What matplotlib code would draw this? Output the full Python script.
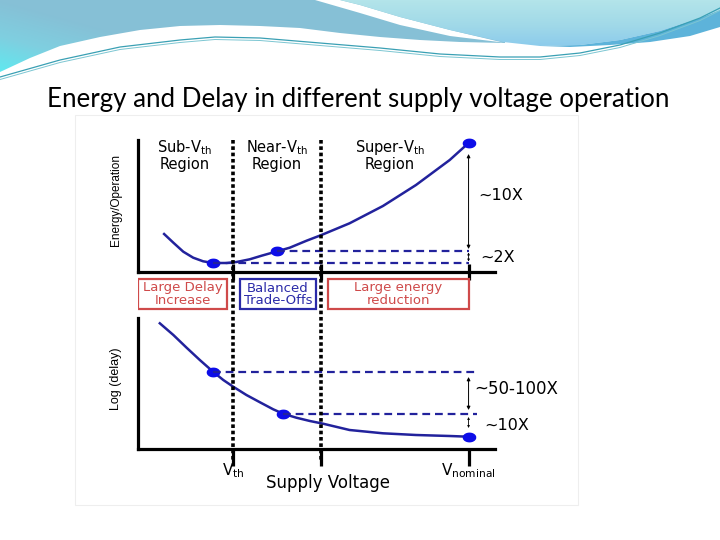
import numpy as np
import matplotlib.pyplot as plt
from matplotlib.patches import Polygon, Rectangle
from matplotlib.colors import LinearSegmentedColormap

plt.rcParams['font.family'] = ['DejaVu Sans']
plt.rcParams['mathtext.fontset'] = 'dejavusans'

# ---- data (arbitrary units) ----
V_TH = 0.287      # threshold voltage
V_NEAR = 0.553    # near/super threshold boundary
V_NOM = 1.0       # nominal supply

energy_v = [0.079, 0.107, 0.137, 0.167, 0.197, 0.227, 0.268, 0.298, 0.338, 0.374,
            0.419, 0.459, 0.510, 0.555, 0.640, 0.741, 0.841, 0.943, 1.0]
energy = [3.8, 2.93, 2.03, 1.43, 1.07, 0.9, 0.9, 1.0, 1.27, 1.63,
          2.05, 2.43, 3.13, 3.7, 4.87, 6.6, 8.7, 11.2, 12.9]
energy_dot_v = [0.227, 0.419, 1.0]
energy_dot = [0.9, 2.07, 12.9]

delay_v = [0.066, 0.107, 0.147, 0.187, 0.227, 0.258, 0.288, 0.328, 0.369, 0.409,
           0.439, 0.479, 0.520, 0.560, 0.640, 0.741, 0.841, 0.943, 1.0]
delay = [12.57, 11.4, 10.13, 8.9, 7.73, 6.9, 6.23, 5.4, 4.67, 3.97,
         3.53, 3.13, 2.8, 2.53, 1.9, 1.57, 1.4, 1.3, 1.23]
delay_dot_v = [0.227, 0.439, 1.0]
delay_dot = [7.73, 3.53, 1.23]

region_labels = ['Sub-V$_{\\mathrm{th}}$\nRegion', 'Near-V$_{\\mathrm{th}}$\nRegion',
                 'Super-V$_{\\mathrm{th}}$\nRegion']
region_x = [0.142, 0.42, 0.761]
box_labels = ['Large Delay\nIncrease', 'Balanced\nTrade-Offs', 'Large energy\nreduction']
box_spans = [(0.0, 0.269), (0.308, 0.538), (0.574, 1.0)]
tick_labels = ['V$_{\\mathrm{th}}$', '', 'V$_{\\mathrm{nominal}}$']

NAVY = '#22229c'
BLUE = '#0d0de8'
RED = '#cf4a4a'
BOXBLUE = '#2a2aa8'

# dots in the picture are slightly wide ellipses
t = np.linspace(0, 2 * np.pi, 40)
ELLIPSE = np.column_stack([1.45 * np.cos(t), np.sin(t)])

fig = plt.figure(figsize=(7.2, 5.4), dpi=100)

# ---- slide background with wavy header ----
bg = fig.add_axes([0, 0, 1, 1], zorder=0)
yy, xx = np.mgrid[0:90, 0:720]

a_x = [0, 0, 30, 60, 100, 140, 180, 220, 260, 300, 340, 380, 420, 460, 505, 505]
a_y = [0, 72, 58, 46, 37, 30, 26, 25, 26, 28, 33, 37, 40, 42, 43, 0]
patch_a = Polygon(np.column_stack([a_x, a_y]), closed=True, fc='none', ec='none')
bg.add_patch(patch_a)
cmap_a = LinearSegmentedColormap.from_list('a', ['#5fe9f0', '#7fcfe0', '#86c0d6'])
im = bg.imshow(np.clip(xx / 260 + (1 - yy / 72), 0, 1), extent=(0, 720, 90, 0),
               cmap=cmap_a, vmin=0, vmax=1, aspect='auto', zorder=1)
im.set_clip_path(patch_a)

w_x = [315, 340, 360, 400, 450, 503, 450, 400, 360]
w_y = [0, 0, 5, 17, 30, 42.5, 36, 25, 13]
bg.add_patch(Polygon(np.column_stack([w_x, w_y]), closed=True, fc='white', ec='none', zorder=2))

r_x = [340, 360, 400, 450, 503, 540, 580, 620, 660, 700, 720, 720]
r_y = [0, 5, 17, 30, 42, 46, 45, 40, 31, 18, 10, 0]
patch_r = Polygon(np.column_stack([r_x, r_y]), closed=True, fc='none', ec='none')
bg.add_patch(patch_r)
cmap_r = LinearSegmentedColormap.from_list('r', ['#b3e4ea', '#a2dae8', '#8ccbec'])
im2 = bg.imshow(yy / 46, extent=(0, 720, 90, 0), cmap=cmap_r, vmin=0, vmax=1,
                aspect='auto', zorder=3)
im2.set_clip_path(patch_r)

d_x = [540, 580, 620, 660, 700, 720, 720, 690, 650, 610, 570]
d_y = [46, 45, 40, 31, 18, 10, 27, 36, 42, 45, 47]
bg.add_patch(Polygon(np.column_stack([d_x, d_y]), closed=True, fc='#5db3da', ec='none', zorder=4))

l_x = [0, 60, 120, 180, 215, 260, 320, 380, 440, 500, 540, 580, 620, 660, 700, 720]
l_y = [77, 60, 47, 40, 37, 38, 43, 48, 54, 57, 57, 53, 45, 33, 18, 8]
bg.plot(l_x, l_y, color='#3aa0b4', lw=0.9, zorder=5)
bg.plot(l_x, np.array(l_y) + 2.5, color='#7cc6d2', lw=0.7, zorder=5)

bg.add_patch(Rectangle((75, 115), 503, 390, fc='none', ec='#eeeeee', lw=0.8, zorder=1))
bg.text(358, 107, 'Energy and Delay in different supply voltage operation',
        family=['Lato', 'DejaVu Sans'], fontsize=18.6, ha='center', va='baseline', zorder=6)
bg.set_xlim(0, 720)
bg.set_ylim(540, 0)
bg.axis('off')

# ---- energy panel ----
L, W = 138 / 720, 357 / 720
ax1 = fig.add_axes([L, 1 - 272 / 540, W, 132 / 540], zorder=2)
ax2 = fig.add_axes([L, 1 - 449 / 540, W, 131 / 540], zorder=2)

for ax in (ax1, ax2):
    ax.patch.set_alpha(0)
    ax.set_xlim(0, 1.08)
    for s in ('top', 'right'):
        ax.spines[s].set_visible(False)
    for s in ('left', 'bottom'):
        ax.spines[s].set_linewidth(2.3)
    ax.set_yticks([])
    ax.set_xticks([V_TH, V_NEAR, V_NOM])

ax1.set_ylim(0, 13.2)
ax1.plot(energy_v, energy, color=NAVY, lw=1.8, clip_on=False)
ax1.plot(energy_dot_v, energy_dot, ls='none', marker=ELLIPSE, color=BLUE, ms=8.8, clip_on=False)
ax1.hlines(energy_dot[1], energy_dot_v[1], V_NOM, colors=NAVY, lw=1.6, linestyles=(0, (3.5, 2.2)))
ax1.hlines(energy_dot[0], energy_dot_v[0], V_NOM, colors=NAVY, lw=1.6, linestyles=(0, (3.5, 2.2)))
ax1.annotate('', xy=(V_NOM, 11.8), xytext=(V_NOM, 2.3),
             arrowprops=dict(arrowstyle='<|-|>', color='black', lw=0.7,
                             mutation_scale=5, shrinkA=0, shrinkB=0))
ax1.annotate('', xy=(V_NOM, 1.95), xytext=(V_NOM, 1.05),
             arrowprops=dict(arrowstyle='<|-|>', color='black', lw=0.6,
                             mutation_scale=3, shrinkA=0, shrinkB=0))
ax1.text(1.03, 7.6, '~10X', fontsize=11.5, va='center')
ax1.text(1.035, 1.5, '~2X', fontsize=11.5, va='center')
for x, lab in zip(region_x, region_labels):
    ax1.text(x, 11.7, lab, fontsize=10.5, ha='center', va='center', linespacing=1.0)
ax1.set_xticklabels([])
ax1.tick_params(axis='x', direction='inout', length=11, width=2.3)
ax1.set_ylabel('Energy/Operation', fontsize=8.5, family=['Liberation Sans', 'DejaVu Sans'])
ax1.yaxis.set_label_coords(-0.045, 0.545)

# ---- delay panel ----
ax2.set_ylim(0, 13.1)
ax2.plot(delay_v, delay, color=NAVY, lw=1.8, clip_on=False)
ax2.plot(delay_dot_v, delay_dot, ls='none', marker=ELLIPSE, color=BLUE, ms=8.8, clip_on=False)
ax2.hlines(delay_dot[0], delay_dot_v[0], 1.027, colors=NAVY, lw=1.6, linestyles=(0, (3.5, 2.2)))
ax2.hlines(delay_dot[1], delay_dot_v[1], 1.027, colors=NAVY, lw=1.6, linestyles=(0, (3.5, 2.2)))
ax2.annotate('', xy=(V_NOM, 7.2), xytext=(V_NOM, 3.9),
             arrowprops=dict(arrowstyle='<|-|>', color='black', lw=0.7,
                             mutation_scale=5, shrinkA=0, shrinkB=0))
ax2.annotate('', xy=(V_NOM, 3.2), xytext=(V_NOM, 2.1),
             arrowprops=dict(arrowstyle='<|-|>', color='black', lw=0.6,
                             mutation_scale=3, shrinkA=0, shrinkB=0))
ax2.text(1.018, 6.0, '~50-100X', fontsize=12, va='center')
ax2.text(1.048, 2.4, '~10X', fontsize=11.5, va='center')
ax2.set_xticklabels(tick_labels, fontsize=11)
ax2.tick_params(axis='x', direction='out', length=12, width=2.3, pad=-3)
ax2.set_ylabel('Log (delay)', fontsize=9, family=['Liberation Sans', 'DejaVu Sans'])
ax2.yaxis.set_label_coords(-0.045, 0.534)
ax2.set_xlabel('Supply Voltage', fontsize=12)
ax2.xaxis.set_label_coords((328 - 138) / 357, -0.19)

# ---- overlay: region boundaries and trade-off boxes ----
ov = fig.add_axes([L, 1 - 470 / 540, W, 340 / 540], zorder=3)
ov.set_xlim(0, 1.08)
ov.set_ylim(470, 130)
ov.axis('off')
ov.vlines([V_TH, V_NEAR], 140, 462, colors='black', lw=2.6, linestyles=(0, (1, 0.75)))
box_colors = [RED, BOXBLUE, RED]
for (x0, x1), lab, c in zip(box_spans, box_labels, box_colors):
    ov.add_patch(Rectangle((x0, 279), x1 - x0, 30, fc='none', ec=c, lw=1.6))
    ov.text((x0 + x1) / 2, 294.5, lab, color=c, fontsize=9.5, ha='center', va='center',
            linespacing=1.0)

fig.savefig('out.png', dpi=100)
